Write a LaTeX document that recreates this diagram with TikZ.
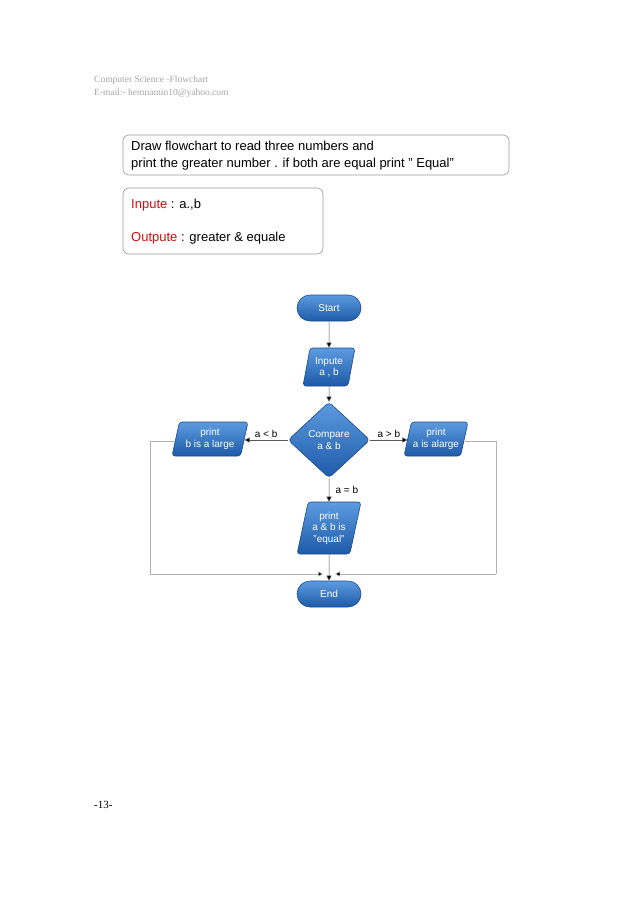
\documentclass[tikz,border=0pt]{standalone}
\usepackage{fontspec}
\setmainfont{Liberation Sans}
\newfontfamily\serifhead{Liberation Serif}
\usetikzlibrary{shapes.geometric,shapes.misc,arrows.meta}
\definecolor{btop}{HTML}{5C9BE0}
\definecolor{bbot}{HTML}{1E5AA8}
\definecolor{bdraw}{HTML}{1A4C8C}
\definecolor{redt}{HTML}{CC1010}
\tikzset{
 blue3d/.style={top color=btop,bottom color=bbot,draw=bdraw,line width=0.6pt,text=white,font=\fontsize{10}{11.5}\selectfont,align=center,inner sep=1pt},
 term/.style={blue3d,rounded rectangle,minimum width=66pt,minimum height=26pt},
 io/.style={blue3d,trapezium,trapezium left angle=72,trapezium right angle=108,trapezium stretches body,rounded corners=3pt},
 dec/.style={blue3d,diamond,minimum width=82pt,minimum height=76pt,aspect=1.08,rounded corners=4pt},
 infobox/.style={draw=gray!80,rounded corners=6pt,line width=0.6pt},
 conn/.style={draw=gray!70!black,line width=0.5pt,-{Triangle[length=5pt,width=5pt,fill=black]}},
 loopline/.style={draw=gray!60,line width=0.6pt},
 lbl/.style={font=\fontsize{10}{11}\selectfont}
}
\begin{document}
\begin{tikzpicture}[x=1pt,y=-1pt]
\useasboundingbox[fill=white] (0,0) rectangle (638,902);
\node[anchor=west,text=gray!70,font=\serifhead\fontsize{9.5}{10}\selectfont,inner sep=0] (h1) at (94,80) {Computer Science -Flowchart};
\node[anchor=west,text=gray!70,font=\serifhead\fontsize{9.5}{10}\selectfont,inner sep=0] (h2) at (94,93) {E-mail:- hemnamin10@yahoo.com};
\node[anchor=west,font=\serifhead\fontsize{11}{12}\selectfont,inner sep=0] (pg) at (94,805) {-13-};

\draw[infobox] (123,135) rectangle (509,175);
\node[anchor=west,font=\fontsize{13}{16.5}\selectfont,align=left,inner sep=0] (t1) at (131,155.5) {Draw flowchart to read three numbers and\\print the greater number . if both are equal print " Equal"};
\draw[infobox] (123,188) rectangle (323,254);
\node[anchor=west,font=\fontsize{13}{15}\selectfont,inner sep=0] (in) at (131,205) {\textcolor{redt}{Inpute} : a.,b};
\node[anchor=west,font=\fontsize{13}{15}\selectfont,inner sep=0] (out) at (131,238) {\textcolor{redt}{Outpute} : greater \& equale};

\node[term] (start) at (329,308) {Start};
\node[io,minimum width=52pt,minimum height=38pt] (inp) at (329,367) {Inpute\\a , b};
\node[dec] (cmp) at (329,440) {Compare\\a \& b};
\node[io,minimum width=76pt,minimum height=34pt] (pl) at (210,439) {print\\b is a large};
\node[io,minimum width=64pt,minimum height=34pt] (pr) at (436,439) {print\\a is alarge};
\node[io,minimum width=64pt,minimum height=52pt] (pe) at (329,528) {print\\a \& b is\\"equal"};
\node[term] (end) at (329,594) {End};

\draw[conn] (start) -- (inp);
\draw[conn] (inp) -- (cmp);
\draw[conn] (cmp.west) -- (pl.east |- cmp.west) node[lbl,midway,above=-1pt] (lt) {a < b};
\draw[conn] (cmp.east) -- (pr.west |- cmp.east) node[lbl,midway,above=-1pt] (gt) {a > b};
\draw[conn] (cmp.south) -- (pe.north) node[lbl,midway,right=3pt] (eq) {a = b};
\draw[conn] (pe) -- (end);
\coordinate (la) at (150,441);
\coordinate (lb) at (150,574);
\coordinate (ra) at (496,441);
\coordinate (rb) at (496,574);
\coordinate (lm) at (323,574);
\coordinate (rm) at (335,574);
\draw[loopline] (pl.west |- la) -- (la) -- (lb);
\draw[conn,draw=gray!60] (lb) -- (lm);
\draw[loopline] (pr.east |- ra) -- (ra) -- (rb);
\draw[conn,draw=gray!60] (rb) -- (rm);
\end{tikzpicture}
\end{document}
